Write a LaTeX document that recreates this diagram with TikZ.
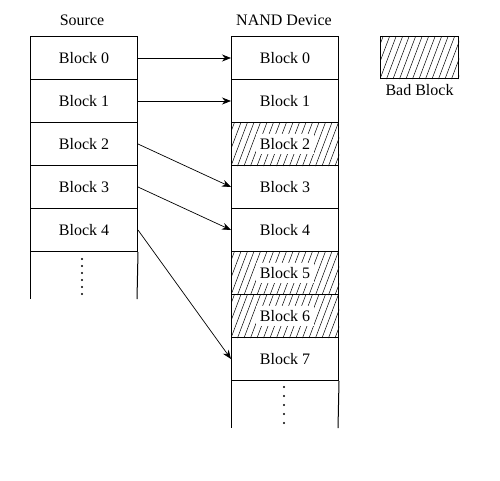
\documentclass[tikz,border=0pt]{standalone}
\usepackage{fontspec}
\setmainfont{Liberation Serif}
\usetikzlibrary{arrows.meta,backgrounds}
\begin{document}
\begin{tikzpicture}[x=1pt,y=-1pt,
  txt/.style={font=\fontsize{16}{19}\selectfont},
  blk/.style={draw, line width=1pt, minimum width=107pt, minimum height=43pt, inner sep=0pt, anchor=north west, txt},
  hline/.style={line width=0.5pt},
  arr/.style={-{Stealth[length=9pt,width=7pt]}, line width=0.7pt},
  side/.style={line width=1pt},
  dot/.style={fill=black}
]
\useasboundingbox (0,0) rectangle (500,480);
% titles
\node[txt] (tsrc) at (82,20) {Source};
\node[txt] (tnand) at (284,20) {NAND Device};
% source blocks
\node[blk] (s0) at (30,36) {Block 0};
\node[blk] (s1) at (30,79) {Block 1};
\node[blk] (s2) at (30,122) {Block 2};
\node[blk] (s3) at (30,165) {Block 3};
\node[blk] (s4) at (30,208) {Block 4};
\coordinate (sl) at (30,299);
\coordinate (sr) at (137,299);
\draw[side] (s4.south west) -- (sl);
\draw[side] (s4.south east) -- (sr);
\foreach \y in {259,266,273,280,287,294} \fill[dot] (82,\y) circle (1.1);
% NAND blocks
\node[blk] (n0) at (231,36) {Block 0};
\node[blk] (n1) at (231,79) {Block 1};
\node[blk] (n2) at (231,122) {Block 2};
\node[blk] (n3) at (231,165) {Block 3};
\node[blk] (n4) at (231,208) {Block 4};
\node[blk] (n5) at (231,251) {Block 5};
\node[blk] (n6) at (231,294) {Block 6};
\node[blk] (n7) at (231,337) {Block 7};
\coordinate (nl) at (231,428);
\coordinate (nr) at (338,428);
\draw[side] (n7.south west) -- (nl);
\draw[side] (n7.south east) -- (nr);
\foreach \y in {387,396,405,414,423} \fill[dot] (284,\y) circle (1.1);
% legend
\node[blk,minimum width=78pt,minimum height=42pt] (bad) at (380,36) {};
\node[txt,anchor=north] (badl) at ([yshift=-2pt]bad.south) {Bad Block};
% hatching
\begin{scope}[on background layer]
\foreach \b in {n2,n5,n6,bad}{
  \begin{scope}
    \clip (\b.south west) rectangle (\b.north east);
    \foreach \i in {0,...,24}
      \draw[hline] ([xshift=\i*6.5pt-26pt]\b.south west) -- ++(17pt,45pt);
  \end{scope}
}
\foreach \b in {n2,n5,n6}
  \fill[white] ([shift={(-29pt,-10pt)}]\b.center) rectangle ([shift={(29pt,10pt)}]\b.center);
\end{scope}
% arrows
\draw[arr] (s0.east) -- (n0.west);
\draw[arr] (s1.east) -- (n1.west);
\draw[arr] (s2.east) -- (n3.west);
\draw[arr] (s3.east) -- (n4.west);
\draw[arr] (s4.east) -- (n7.west);
\end{tikzpicture}
\end{document}
